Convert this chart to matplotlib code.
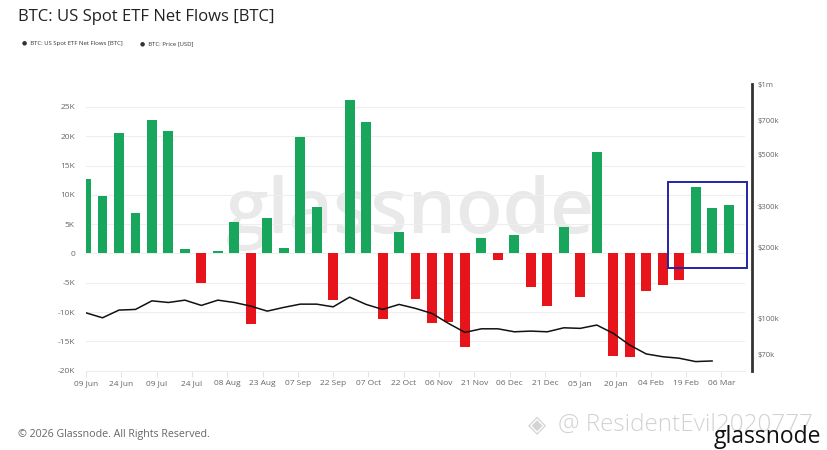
import pandas as pd
import matplotlib
matplotlib.use('Agg')
import matplotlib.pyplot as plt
import matplotlib.dates as mdates
from matplotlib.patches import Rectangle

# weekly ETF net flows (BTC) and BTC price (USD)
weeks = pd.date_range('2025-06-09', periods=40, freq='7D')
flows = [12700, 9800, 20600, 6900, 22700, 20900, 800, -5000, 400, 5300,
         -12000, 6100, 850, 19800, 7850, -8000, 26100, 22400, -11200, 3600,
         -7700, -11900, -11700, -16000, 2700, -1100, 3100, -5700, -8900, 4500,
         -7500, 17300, -17500, -17600, -6400, -5400, -4600, 11300, 7700, 8200]
price = [105300, 100300, 108200, 108900, 118500, 116600, 119300, 113300, 119300, 116600,
         112500, 107100, 111100, 114700, 114700, 111700, 122900, 114400, 108900, 114400,
         110000, 104700, 94900, 86900, 90000, 90000, 87400, 88000, 87400, 90900,
         90400, 93400, 86100, 76700, 70300, 68400, 67400, 65200, 65600]

price_ticks = [70e3, 100e3, 200e3, 300e3, 500e3, 700e3, 1e6]
price_labels = ['$70k', '$100k', '$200k', '$300k', '$500k', '$700k', '$1m']
flow_ticks = [-20000, -15000, -10000, -5000, 0, 5000, 10000, 15000, 20000, 25000]
flow_labels = ['-20K', '-15K', '-10K', '-5K', '0', '5K', '10K', '15K', '20K', '25K']

green = '#17a65c'
red = '#e8141b'
grey = '#666666'

plt.rcParams['font.family'] = ['Open Sans', 'DejaVu Sans']

fig = plt.figure(figsize=(8.28, 4.5), dpi=100)
ax = fig.add_axes([0.1039, 0.1762, 0.7959, 0.6371])

colors = [green if v >= 0 else red for v in flows]
ax.bar(weeks, flows, width=4.2, color=colors, zorder=2)
ax.set_ylim(-20000, 28900)
ax.set_xlim(pd.Timestamp('2025-06-09'), pd.Timestamp('2026-03-16'))
ax.set_yticks(flow_ticks)
ax.set_yticklabels(flow_labels)
ax.grid(axis='y', color='#eeeeee', lw=0.8, zorder=0)
ax.tick_params(axis='y', length=0, labelsize=6, labelcolor=grey, pad=8)

xt = pd.date_range('2025-06-09', '2026-03-06', freq='15D')
ax.set_xticks(xt)
ax.xaxis.set_major_formatter(mdates.DateFormatter('%d %b'))
ax.tick_params(axis='x', length=4, color='#e4e4e4', labelsize=6, labelcolor=grey, pad=3)
for s in ['top', 'right', 'left']:
    ax.spines[s].set_visible(False)
ax.spines['bottom'].set_color('#eeeeee')

# watermark behind the bars
ax.text(410 / 828, 1 - 213 / 450, 'glassnode', fontsize=55, color='#e9e9e9',
        fontweight='semibold', ha='center', va='center', zorder=1,
        transform=fig.transFigure)

ax2 = ax.twinx()
ax2.plot(weeks[:len(price)], price, color='#111111', lw=1.1, zorder=3)
ax2.set_yscale('log')
ax2.set_ylim(59600, 1e6)
ax2.set_yticks(price_ticks)
ax2.set_yticklabels(price_labels)
ax2.minorticks_off()
ax2.tick_params(axis='y', length=0, labelsize=5.5, labelcolor=grey, pad=4)
for s in ['top', 'left', 'bottom']:
    ax2.spines[s].set_visible(False)
ax2.spines['right'].set_position(('outward', 5))
ax2.spines['right'].set_linewidth(2)
ax2.spines['right'].set_color('#333333')

# highlight box
fig.patches.append(Rectangle((668 / 828, 1 - 268 / 450), 79 / 828, 85.5 / 450,
                             transform=fig.transFigure, fill=False,
                             edgecolor='#2424a8', lw=1.4))

# title and legend
fig.text(18 / 828, 1 - 17 / 450, 'BTC: US Spot ETF Net Flows [BTC]', fontsize=12,
         color='#222222', va='center')
fig.text(22 / 828, 1 - 44 / 450, '●  BTC: US Spot ETF Net Flows [BTC]', fontsize=4.3,
         color='#333333', va='center')
fig.text(140 / 828, 1 - 44 / 450, '●  BTC: Price [USD]', fontsize=4.3,
         color='#333333', va='center')

# footer
fig.text(18 / 828, 1 - 434 / 450, '© 2026 Glassnode. All Rights Reserved.', fontsize=7.7,
         color=grey, va='center')
fig.text(528 / 828, 1 - 425 / 450, '◈', fontsize=17, color='#d4d4d4', va='center',
         family='DejaVu Sans')
fig.text(558 / 828, 1 - 425 / 450, '@ ResidentEvil2020777', fontsize=17.5, color='#d2d2d2',
         va='center', fontweight='light')
fig.text(821 / 828, 1 - 437 / 450, 'glassnode', fontsize=16.5, color='#111111',
         ha='right', va='center', fontweight='medium')

fig.savefig('out.png', dpi=100)
